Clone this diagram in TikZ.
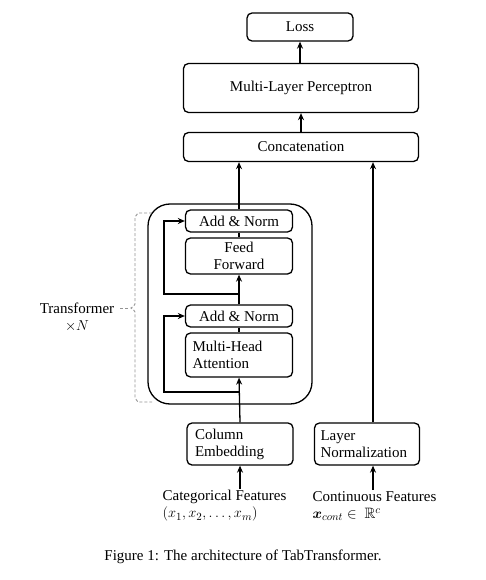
\documentclass[tikz,border=0pt]{standalone}
\usepackage{amsmath}
\usepackage{amssymb}
\usepackage{bm}
\usepackage{fontspec}
\setmainfont{Liberation Serif}
\usetikzlibrary{arrows.meta}

\begin{document}
\begin{tikzpicture}[x=1pt,y=-1pt,line width=1.3pt,
  every node/.style={font=\fontsize{15}{17}\selectfont},
  box/.style={draw,rounded corners=5pt,inner sep=2pt},
  arr/.style={-{Stealth[length=7pt,width=6pt]}},
  brace/.style={draw=gray!85,dash pattern=on 3pt off 2pt,line width=0.9pt}]
\useasboundingbox (0,0) rectangle (486,580);
% outer block
\node[draw,rounded corners=22pt,minimum width=164pt,minimum height=200pt] (trf) at (230,304) {};
% head
\node[box,minimum width=106pt,minimum height=28pt] (loss) at (300,27) {Loss};
\node[box,minimum width=235pt,minimum height=49pt] (mlp) at (301,88) {Multi-Layer Perceptron};
\node[box,minimum width=235pt,minimum height=29pt] (concat) at (301,147) {Concatenation};
% transformer layers
\node[box,minimum width=107pt,minimum height=22pt] (an1) at (239,221) {Add \& Norm};
\node[box,minimum width=107pt,minimum height=36pt,align=center] (ff) at (239,256) {Feed\\Forward};
\node[box,minimum width=107pt,minimum height=22pt] (an2) at (239,316) {Add \& Norm};
\node[box,minimum width=107pt,minimum height=44pt,text width=93pt,align=left] (mha) at (239,355) {Multi-Head\\Attention};
% inputs
\node[box,minimum width=106pt,minimum height=42pt,text width=90pt,align=left] (ce) at (240,444) {Column\\Embedding};
\node[box,minimum width=105pt,minimum height=42pt,text width=93pt,align=left] (ln) at (367,444) {Layer\\Normalization};
\node[anchor=west,align=left,inner sep=1pt] (cat) at (161,506) {Categorical Features\\$(x_1,x_2,\dots,x_m)$};
\node[anchor=west,align=left,inner sep=1pt] (cont) at (311,506) {Continuous Features\\$\bm{x}_{cont}\in\ \mathbb{R}^c$};
% connectors
\draw[arr] (mlp.north -| loss.south) -- (loss.south);
\draw[arr] (concat.north) -- (concat.north |- mlp.south);
\draw[arr] (an1.north) -- (an1.north |- concat.south);
\draw (an1.south) -- (ff.north);
\draw[arr] (an2.north) -- (ff.south);
\draw (an2.south) -- (mha.north);
\draw[arr] (ce.north) -- (mha.south);
\coordinate (r1) at (239,294);
\coordinate (r2) at (239,392);
\draw[arr] (r1) -- ++(-75,0) |- (an1.west);
\draw[arr] (r2) -- ++(-75,0) |- (an2.west);
\draw[arr] ([xshift=6pt]ln.north) -- ([xshift=6pt]ln.north |- concat.south);
\draw[arr] (ce.south |- cat.north) -- (ce.south);
\draw[arr] ([xshift=6pt]ln.south |- cont.north) -- ([xshift=6pt]ln.south);
% repeat label
\node[align=center] (lbl) at (77,317) {Transformer\\$\times N$};
\draw[brace] (152,213) -- (138,213) to[bend right=20] (135,217) -- (135,304)
  to[bend left=20] (131,308) to[bend left=20] (135,312) -- (135,398)
  to[bend right=20] (138,402) -- (152,402);
\draw[brace] (lbl.east |- 0,308) ++(2,0) -- (129,308);
% caption
\node (cap) at (243,557) {Figure 1: The architecture of TabTransformer.};
\end{tikzpicture}
\end{document}
